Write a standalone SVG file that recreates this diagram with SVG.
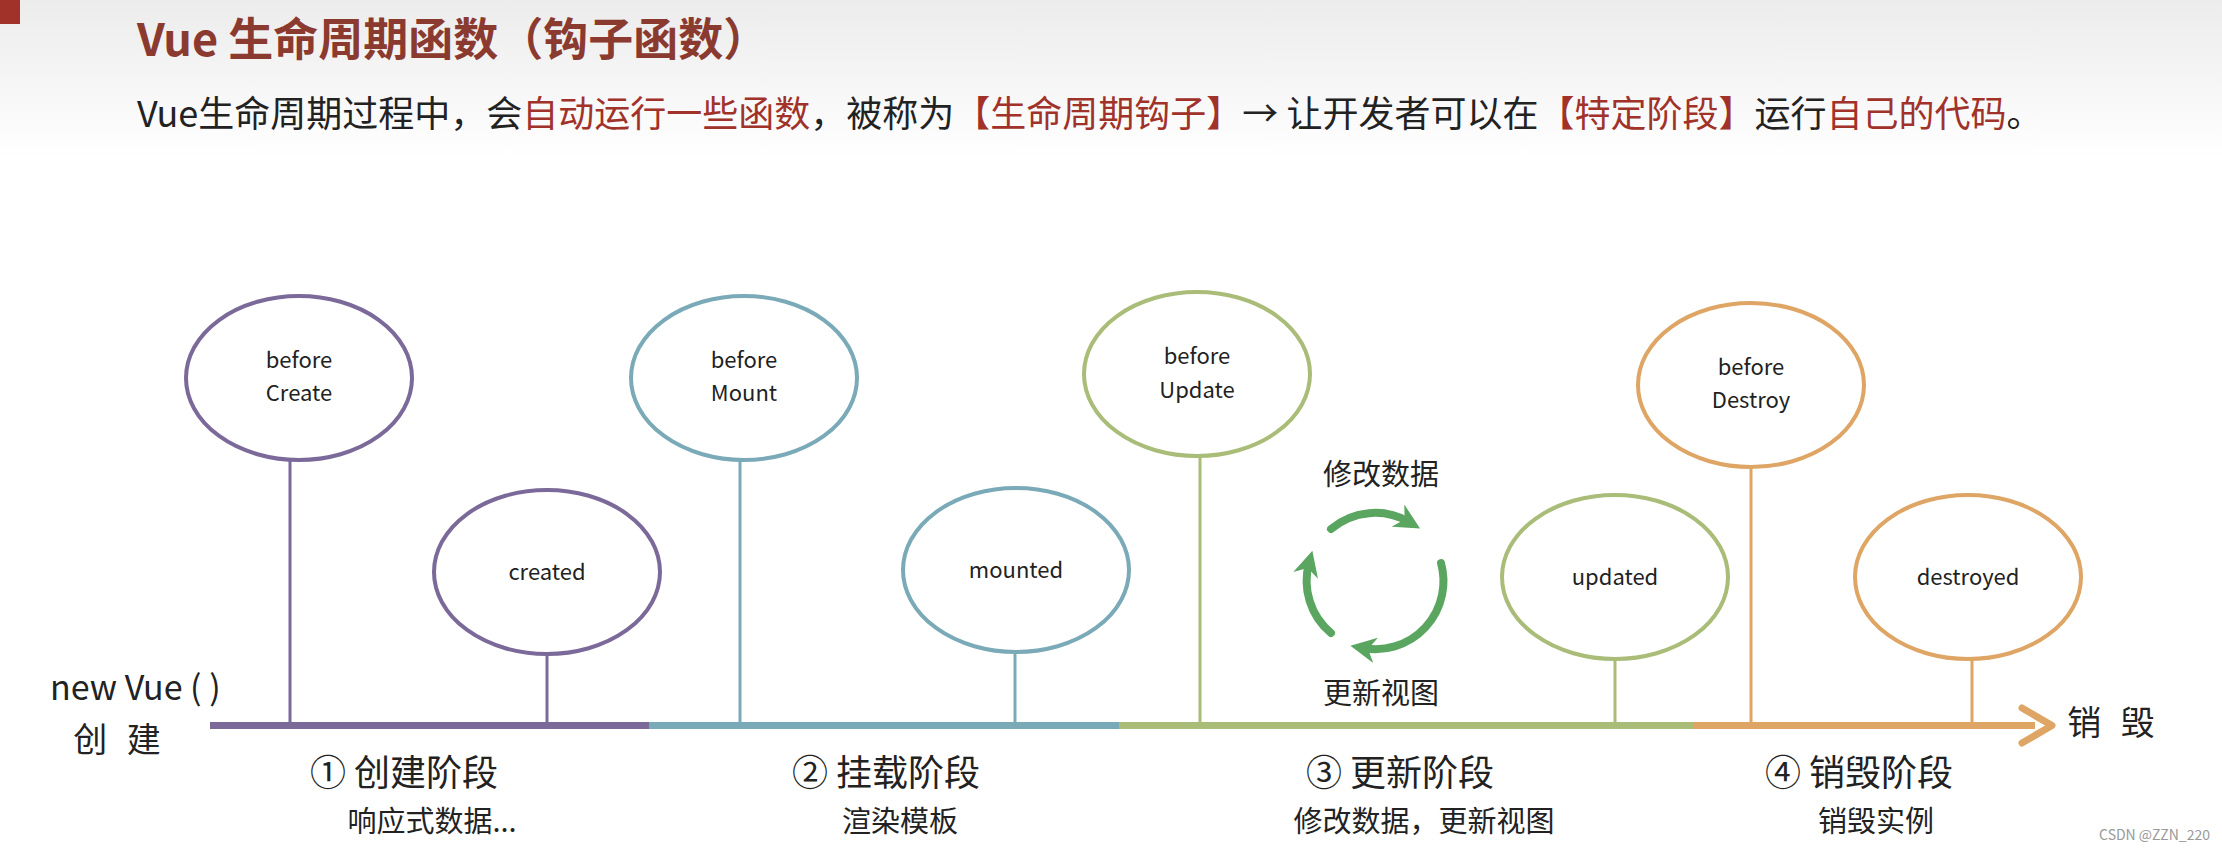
<svg xmlns="http://www.w3.org/2000/svg" width="2222" height="850" viewBox="0 0 2222 850">
<defs>
<linearGradient id="bg" x1="0" y1="0" x2="0" y2="1"><stop offset="0" stop-color="#ececec"/><stop offset="1" stop-color="#ffffff"/></linearGradient>
<marker id="ga" viewBox="0 0 10 10" refX="5" refY="5" markerWidth="3.2" markerHeight="3.2" orient="auto" markerUnits="strokeWidth"><path d="M0,0 L10,5 L0,10 L3,5 z" fill="#5aa660"/></marker>
</defs>
<style>
text{font-family:"Noto Sans CJK SC","Noto Sans",sans-serif;fill:#222}
.hk{font-size:22px;text-anchor:middle}
.ph{font-size:36px;text-anchor:middle}
.sub{font-size:29px;text-anchor:middle}
.red{fill:#a0322a}
.e{fill:#fff;stroke-width:4}
.p{stroke:#7b6a99}.b{stroke:#7aa9b8}.g{stroke:#a9bc78}.o{stroke:#dea565}
.v{stroke-width:3;fill:none}
</style>
<rect width="2222" height="160" fill="url(#bg)"/>
<rect width="2222" height="690" y="160" fill="#fff"/>
<rect x="0" y="0" width="20" height="24" fill="#a0322a"/>
<text x="137" y="56" font-size="45" font-weight="bold" style="fill:#8b3a2f">Vue 生命周期函数（钩子函数）</text>
<text x="137" y="127" font-size="36">Vue生命周期过程中，会<tspan class="red">自动运行一些函数</tspan>，被称为<tspan class="red">【生命周期钩子】</tspan>→ 让开发者可以在<tspan class="red">【特定阶段】</tspan>运行<tspan class="red">自己的代码</tspan>。</text>
<g id="connectors">
<line x1="290" y1="460" x2="290" y2="725" class="p v"/>
<line x1="547" y1="654" x2="547" y2="725" class="p v"/>
<line x1="740" y1="460" x2="740" y2="725" class="b v"/>
<line x1="1015" y1="652" x2="1015" y2="725" class="b v"/>
<line x1="1200" y1="456" x2="1200" y2="725" class="g v"/>
<line x1="1615" y1="659" x2="1615" y2="725" class="g v"/>
<line x1="1751" y1="467" x2="1751" y2="725" class="o v"/>
<line x1="1972" y1="659" x2="1972" y2="725" class="o v"/>
</g>
<g id="axis">
<rect x="210" y="722" width="439" height="7" fill="#7b6a99"/>
<rect x="649" y="722" width="470" height="7" fill="#7aa9b8"/>
<rect x="1119" y="722" width="574" height="7" fill="#a9bc78"/>
<rect x="1693" y="722" width="342" height="7" fill="#dea565"/>
<path d="M2022,708 L2052,725.5 L2022,743" fill="none" stroke="#dea565" stroke-width="7" stroke-linejoin="round" stroke-linecap="round"/>
</g>
<g id="beforeCreate"><ellipse cx="299" cy="378" rx="113" ry="82" class="e p"/><text x="299" y="368" class="hk">before</text><text x="299" y="401" class="hk">Create</text></g>
<g id="created"><ellipse cx="547" cy="572" rx="113" ry="82" class="e p"/><text x="547" y="580" class="hk">created</text></g>
<g id="beforeMount"><ellipse cx="744" cy="378" rx="113" ry="82" class="e b"/><text x="744" y="368" class="hk">before</text><text x="744" y="401" class="hk">Mount</text></g>
<g id="mounted"><ellipse cx="1016" cy="570" rx="113" ry="82" class="e b"/><text x="1016" y="578" class="hk">mounted</text></g>
<g id="beforeUpdate"><ellipse cx="1197" cy="374" rx="113" ry="82" class="e g"/><text x="1197" y="364" class="hk">before</text><text x="1197" y="398" class="hk">Update</text></g>
<g id="updated"><ellipse cx="1615" cy="577" rx="113" ry="82" class="e g"/><text x="1615" y="585" class="hk">updated</text></g>
<g id="beforeDestroy"><ellipse cx="1751" cy="385" rx="113" ry="82" class="e o"/><text x="1751" y="375" class="hk">before</text><text x="1751" y="408" class="hk">Destroy</text></g>
<g id="destroyed"><ellipse cx="1968" cy="577" rx="113" ry="82" class="e o"/><text x="1968" y="585" class="hk">destroyed</text></g>
<g id="cycle" fill="none" stroke="#5aa660" stroke-width="8" stroke-linecap="round">
<path d="M1331,529 A68,68 0 0 1 1409,522" marker-end="url(#ga)"/>
<path d="M1441,563 A68,68 0 0 1 1363,648" marker-end="url(#ga)"/>
<path d="M1331,633 A68,68 0 0 1 1309,563" marker-end="url(#ga)"/>
</g>
<text x="1381" y="485" class="sub">修改数据</text>
<text x="1381" y="704" class="sub">更新视图</text>
<text x="50" y="700" font-size="34">new Vue ( )</text>
<text x="120" y="752" font-size="34" text-anchor="middle" letter-spacing="6">创 建</text>
<text x="2114" y="735" font-size="34" text-anchor="middle" letter-spacing="6">销 毁</text>
<g id="phases">
<text x="404" y="786" class="ph">① 创建阶段</text><text x="432" y="832" class="sub">响应式数据...</text>
<text x="886" y="786" class="ph">② 挂载阶段</text><text x="900" y="832" class="sub">渲染模板</text>
<text x="1400" y="786" class="ph">③ 更新阶段</text><text x="1424" y="832" class="sub">修改数据，更新视图</text>
<text x="1859" y="786" class="ph">④ 销毁阶段</text><text x="1876" y="832" class="sub">销毁实例</text>
</g>
<text x="2210" y="840" font-size="14" text-anchor="end" style="fill:#999">CSDN @ZZN_220</text>
</svg>
